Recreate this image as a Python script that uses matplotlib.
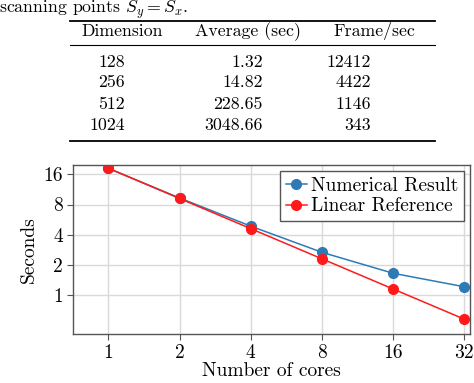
import matplotlib
matplotlib.use("Agg")
import matplotlib.pyplot as plt
from matplotlib.ticker import FixedLocator, FixedFormatter, NullLocator
from matplotlib.lines import Line2D

# table data
dims = ["128", "256", "512", "1024"]
avg_sec = ["1.32", "14.82", "228.65", "3048.66"]
frame_sec = ["12412", "4422", "1146", "343"]
headers = ["Dimension", "Average (sec)", "Frame/sec"]

# chart data
cores = [1, 2, 4, 8, 16, 32]
numerical = [18.4, 9.3, 4.87, 2.67, 1.65, 1.21]
linear_ref = [18.4, 9.2, 4.6, 2.3, 1.15, 0.575]
yticks = [1, 2, 4, 8, 16]

plt.rcParams["font.family"] = "cmr10"
plt.rcParams["mathtext.fontset"] = "cm"
plt.rcParams["axes.unicode_minus"] = False

W, H = 474, 383
fig = plt.figure(figsize=(W / 100, H / 100), dpi=100)


def fx(x):
    return x / W


def fy(y):
    return 1 - y / H


# caption + table drawn as figure text
fs_tab = 12.8
fig.text(fx(-1), fy(13), r"scanning points $S_y = S_x$.", fontsize=fs_tab, va="baseline")
for y, lw in [(20.7, 1.3), (45.3, 0.8), (140.7, 1.3)]:
    fig.add_artist(Line2D([fx(70), fx(435)], [fy(y), fy(y)], color="black", lw=lw,
                          transform=fig.transFigure))
for h, cx in zip(headers, [122, 248, 374]):
    fig.text(fx(cx), fy(36), h, fontsize=fs_tab, ha="center", va="baseline")
for i, y in enumerate([66.7, 87.3, 109.3, 130]):
    fig.text(fx(125), fy(y), dims[i], fontsize=fs_tab, ha="right", va="baseline")
    fig.text(fx(263), fy(y), avg_sec[i], fontsize=fs_tab, ha="right", va="baseline")
    fig.text(fx(371), fy(y), frame_sec[i], fontsize=fs_tab, ha="right", va="baseline")

# chart
ax = fig.add_axes([fx(72.7), fy(334), (470 - 72.7) / W, (334 - 165) / H])
ax.plot(cores, numerical, color="#2c7bb6", marker="o", ms=7, lw=1.1,
        label="Numerical Result")
ax.plot(cores, linear_ref, color="#ff1a1a", marker="o", ms=7, lw=1.1,
        label="Linear Reference")
ax.set_xscale("log")
ax.set_yscale("log")
ax.set_xlim(2 ** -0.5, 2 ** 5.08)
ax.set_ylim(2 ** -1.29, 2 ** 4.31)
ax.xaxis.set_major_locator(FixedLocator(cores))
ax.xaxis.set_major_formatter(FixedFormatter([str(c) for c in cores]))
ax.yaxis.set_major_locator(FixedLocator(yticks))
ax.yaxis.set_major_formatter(FixedFormatter([str(t) for t in yticks]))
ax.xaxis.set_minor_locator(NullLocator())
ax.yaxis.set_minor_locator(NullLocator())
ax.grid(True, color="#d9d9d9", lw=1)
ax.set_axisbelow(True)
for s in ax.spines.values():
    s.set_color("#555555")
    s.set_linewidth(1)
ax.tick_params(labelsize=14, color="#555555", length=4, width=0.8, pad=3)
ax.set_xlabel("Number of cores", fontsize=14, labelpad=0.5)
ax.set_ylabel("Seconds", fontsize=14, labelpad=4)
leg = ax.legend(loc="upper right", fontsize=14, fancybox=False, edgecolor="#555555",
                framealpha=1, handlelength=1.1, handletextpad=0.2, borderpad=0.3,
                labelspacing=0.15, borderaxespad=0.3)
leg.get_frame().set_linewidth(1)

fig.savefig("out.png", dpi=100)
